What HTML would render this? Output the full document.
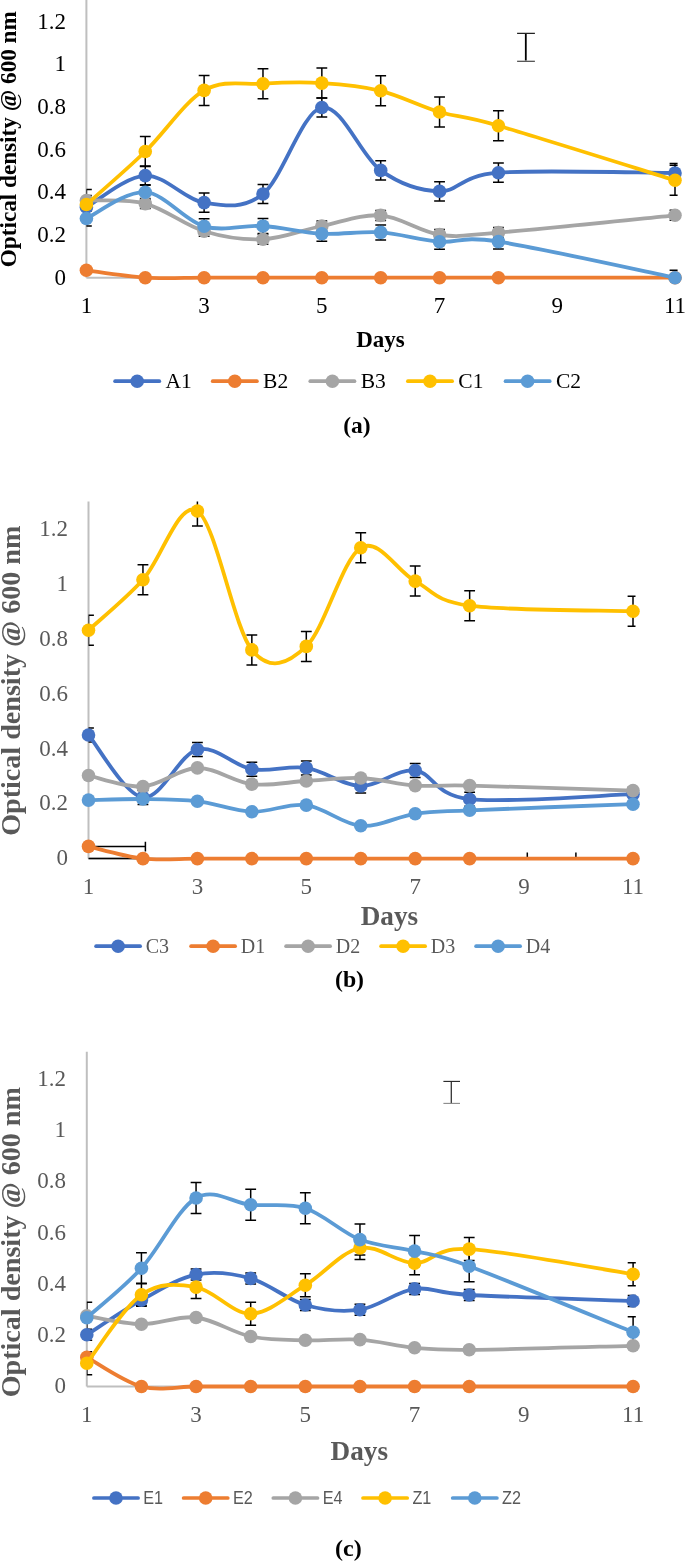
<!DOCTYPE html>
<html><head><meta charset="utf-8"><title>Optical density charts</title>
<style>
html,body{margin:0;padding:0;background:#fff;}
body{width:685px;height:1561px;overflow:hidden;}
svg{display:block;}
.s{font-family:"Liberation Serif","Times New Roman",serif;}
.ss{font-family:"Liberation Sans",Arial,sans-serif;}
</style></head><body>
<svg width="685" height="1561" viewBox="0 0 685 1561">
<rect width="685" height="1561" fill="#fff"/>
<line x1="86.40" y1="0.00" x2="86.40" y2="277.80" stroke="#BFBFBF" stroke-width="2"/>
<line x1="86.40" y1="277.80" x2="675.00" y2="277.80" stroke="#BFBFBF" stroke-width="2"/>
<text x="66.00" y="285.25" text-anchor="end" font-size="23" fill="#000" class="s">0</text>
<text x="66.00" y="242.30" text-anchor="end" font-size="23" fill="#000" class="s">0.2</text>
<text x="66.00" y="199.20" text-anchor="end" font-size="23" fill="#000" class="s">0.4</text>
<text x="66.00" y="157.05" text-anchor="end" font-size="23" fill="#000" class="s">0.6</text>
<text x="66.00" y="113.90" text-anchor="end" font-size="23" fill="#000" class="s">0.8</text>
<text x="66.00" y="71.10" text-anchor="end" font-size="23" fill="#000" class="s">1</text>
<text x="66.00" y="29.45" text-anchor="end" font-size="23" fill="#000" class="s">1.2</text>
<text x="86.40" y="313.30" text-anchor="middle" font-size="23" fill="#000" class="s">1</text>
<text x="204.12" y="313.30" text-anchor="middle" font-size="23" fill="#000" class="s">3</text>
<text x="321.84" y="313.30" text-anchor="middle" font-size="23" fill="#000" class="s">5</text>
<text x="439.56" y="313.30" text-anchor="middle" font-size="23" fill="#000" class="s">7</text>
<text x="557.28" y="313.30" text-anchor="middle" font-size="23" fill="#000" class="s">9</text>
<text x="675.00" y="313.30" text-anchor="middle" font-size="23" fill="#000" class="s">11</text>
<text transform="translate(16.40,139.20) rotate(-90)" text-anchor="middle" font-size="23.2" font-weight="bold" fill="#000" class="s">Optical density @ 600 nm</text>
<text x="380.50" y="346.60" text-anchor="middle" font-size="23" font-weight="bold" fill="#000" class="s">Days</text>
<clipPath id="clipa"><rect x="86.40" y="0.00" width="591.20" height="278.80"/></clipPath>
<path d="M86.40,197.60V216.80M81.00,197.60H91.80M81.00,216.80H91.80M145.26,166.00V185.20M139.86,166.00H150.66M139.86,185.20H150.66M204.12,193.00V212.20M198.72,193.00H209.52M198.72,212.20H209.52M262.98,184.40V203.60M257.58,184.40H268.38M257.58,203.60H268.38M321.84,97.90V117.10M316.44,97.90H327.24M316.44,117.10H327.24M380.70,160.80V180.00M375.30,160.80H386.10M375.30,180.00H386.10M439.56,181.70V200.90M434.16,181.70H444.96M434.16,200.90H444.96M498.42,163.10V182.30M493.02,163.10H503.82M493.02,182.30H503.82M675.00,163.40V182.60M669.60,163.40H680.40M669.60,182.60H680.40" stroke="#000" stroke-width="1.5" fill="none" clip-path="url(#clipa)"/>
<path d="M86.40,195.50V205.50M81.00,195.50H91.80M81.00,205.50H91.80M145.26,198.60V208.60M139.86,198.60H150.66M139.86,208.60H150.66M204.12,226.20V236.20M198.72,226.20H209.52M198.72,236.20H209.52M262.98,234.20V244.20M257.58,234.20H268.38M257.58,244.20H268.38M321.84,221.00V231.00M316.44,221.00H327.24M316.44,231.00H327.24M380.70,210.40V220.40M375.30,210.40H386.10M375.30,220.40H386.10M439.56,229.60V239.60M434.16,229.60H444.96M434.16,239.60H444.96M498.42,227.60V237.60M493.02,227.60H503.82M493.02,237.60H503.82M675.00,210.30V220.30M669.60,210.30H680.40M669.60,220.30H680.40" stroke="#000" stroke-width="1.5" fill="none" clip-path="url(#clipa)"/>
<path d="M86.40,189.50V219.50M81.00,189.50H91.80M81.00,219.50H91.80M145.26,136.50V166.50M139.86,136.50H150.66M139.86,166.50H150.66M204.12,75.40V105.40M198.72,75.40H209.52M198.72,105.40H209.52M262.98,68.70V98.70M257.58,68.70H268.38M257.58,98.70H268.38M321.84,68.10V98.10M316.44,68.10H327.24M316.44,98.10H327.24M380.70,75.80V105.80M375.30,75.80H386.10M375.30,105.80H386.10M439.56,97.00V127.00M434.16,97.00H444.96M434.16,127.00H444.96M498.42,110.80V140.80M493.02,110.80H503.82M493.02,140.80H503.82M675.00,165.30V195.30M669.60,165.30H680.40M669.60,195.30H680.40" stroke="#000" stroke-width="1.5" fill="none" clip-path="url(#clipa)"/>
<path d="M86.40,211.00V226.00M81.00,211.00H91.80M81.00,226.00H91.80M145.26,184.70V199.70M139.86,184.70H150.66M139.86,199.70H150.66M204.12,218.80V233.80M198.72,218.80H209.52M198.72,233.80H209.52M262.98,218.50V233.50M257.58,218.50H268.38M257.58,233.50H268.38M321.84,226.20V241.20M316.44,226.20H327.24M316.44,241.20H327.24M380.70,224.90V239.90M375.30,224.90H386.10M375.30,239.90H386.10M439.56,234.20V249.20M434.16,234.20H444.96M434.16,249.20H444.96M498.42,234.10V249.10M493.02,234.10H503.82M493.02,249.10H503.82M675.00,270.20V285.20M669.60,270.20H680.40M669.60,285.20H680.40" stroke="#000" stroke-width="1.5" fill="none" clip-path="url(#clipa)"/>
<path d="M86.40,207.20 C96.21,201.93 125.64,176.37 145.26,175.60 C164.88,174.83 184.50,199.53 204.12,202.60 C223.74,205.67 243.36,209.85 262.98,194.00 C282.60,178.15 302.22,111.43 321.84,107.50 C341.46,103.57 361.08,156.43 380.70,170.40 C400.32,184.37 419.94,190.92 439.56,191.30 C459.18,191.68 459.18,175.75 498.42,172.70 C537.66,169.65 645.57,172.95 675.00,173.00" stroke="#4472C4" stroke-width="3.8" fill="none" stroke-linecap="round" stroke-linejoin="round"/>
<circle cx="86.40" cy="207.20" r="6.8" fill="#4472C4"/>
<circle cx="145.26" cy="175.60" r="6.8" fill="#4472C4"/>
<circle cx="204.12" cy="202.60" r="6.8" fill="#4472C4"/>
<circle cx="262.98" cy="194.00" r="6.8" fill="#4472C4"/>
<circle cx="321.84" cy="107.50" r="6.8" fill="#4472C4"/>
<circle cx="380.70" cy="170.40" r="6.8" fill="#4472C4"/>
<circle cx="439.56" cy="191.30" r="6.8" fill="#4472C4"/>
<circle cx="498.42" cy="172.70" r="6.8" fill="#4472C4"/>
<circle cx="675.00" cy="173.00" r="6.8" fill="#4472C4"/>
<path d="M86.40,270.30 C96.21,271.53 125.64,276.47 145.26,277.70 C164.88,278.93 184.50,277.70 204.12,277.70 C223.74,277.70 243.36,277.70 262.98,277.70 C282.60,277.70 302.22,277.70 321.84,277.70 C341.46,277.70 361.08,277.70 380.70,277.70 C400.32,277.70 419.94,277.70 439.56,277.70 C459.18,277.70 459.18,277.70 498.42,277.70 C537.66,277.70 645.57,277.70 675.00,277.70" stroke="#ED7D31" stroke-width="3.8" fill="none" stroke-linecap="round" stroke-linejoin="round"/>
<circle cx="86.40" cy="270.30" r="6.8" fill="#ED7D31"/>
<circle cx="145.26" cy="277.70" r="6.8" fill="#ED7D31"/>
<circle cx="204.12" cy="277.70" r="6.8" fill="#ED7D31"/>
<circle cx="262.98" cy="277.70" r="6.8" fill="#ED7D31"/>
<circle cx="321.84" cy="277.70" r="6.8" fill="#ED7D31"/>
<circle cx="380.70" cy="277.70" r="6.8" fill="#ED7D31"/>
<circle cx="439.56" cy="277.70" r="6.8" fill="#ED7D31"/>
<circle cx="498.42" cy="277.70" r="6.8" fill="#ED7D31"/>
<circle cx="675.00" cy="277.70" r="6.8" fill="#ED7D31"/>
<path d="M86.40,200.50 C96.21,201.02 125.64,198.48 145.26,203.60 C164.88,208.72 184.50,225.27 204.12,231.20 C223.74,237.13 243.36,240.07 262.98,239.20 C282.60,238.33 302.22,229.97 321.84,226.00 C341.46,222.03 361.08,213.97 380.70,215.40 C400.32,216.83 419.94,231.73 439.56,234.60 C459.18,237.47 459.18,235.82 498.42,232.60 C537.66,229.38 645.57,218.18 675.00,215.30" stroke="#A5A5A5" stroke-width="3.8" fill="none" stroke-linecap="round" stroke-linejoin="round"/>
<circle cx="86.40" cy="200.50" r="6.8" fill="#A5A5A5"/>
<circle cx="145.26" cy="203.60" r="6.8" fill="#A5A5A5"/>
<circle cx="204.12" cy="231.20" r="6.8" fill="#A5A5A5"/>
<circle cx="262.98" cy="239.20" r="6.8" fill="#A5A5A5"/>
<circle cx="321.84" cy="226.00" r="6.8" fill="#A5A5A5"/>
<circle cx="380.70" cy="215.40" r="6.8" fill="#A5A5A5"/>
<circle cx="439.56" cy="234.60" r="6.8" fill="#A5A5A5"/>
<circle cx="498.42" cy="232.60" r="6.8" fill="#A5A5A5"/>
<circle cx="675.00" cy="215.30" r="6.8" fill="#A5A5A5"/>
<path d="M86.40,204.50 C96.21,195.67 125.64,170.52 145.26,151.50 C164.88,132.48 184.50,101.70 204.12,90.40 C223.74,79.10 243.36,84.92 262.98,83.70 C282.60,82.48 302.22,81.92 321.84,83.10 C341.46,84.28 361.08,85.98 380.70,90.80 C400.32,95.62 419.94,106.17 439.56,112.00 C459.18,117.83 459.18,114.42 498.42,125.80 C537.66,137.18 645.57,171.22 675.00,180.30" stroke="#FFC000" stroke-width="3.8" fill="none" stroke-linecap="round" stroke-linejoin="round"/>
<circle cx="86.40" cy="204.50" r="6.8" fill="#FFC000"/>
<circle cx="145.26" cy="151.50" r="6.8" fill="#FFC000"/>
<circle cx="204.12" cy="90.40" r="6.8" fill="#FFC000"/>
<circle cx="262.98" cy="83.70" r="6.8" fill="#FFC000"/>
<circle cx="321.84" cy="83.10" r="6.8" fill="#FFC000"/>
<circle cx="380.70" cy="90.80" r="6.8" fill="#FFC000"/>
<circle cx="439.56" cy="112.00" r="6.8" fill="#FFC000"/>
<circle cx="498.42" cy="125.80" r="6.8" fill="#FFC000"/>
<circle cx="675.00" cy="180.30" r="6.8" fill="#FFC000"/>
<path d="M86.40,218.50 C96.21,214.12 125.64,190.90 145.26,192.20 C164.88,193.50 184.50,220.67 204.12,226.30 C223.74,231.93 243.36,224.77 262.98,226.00 C282.60,227.23 302.22,232.63 321.84,233.70 C341.46,234.77 361.08,231.07 380.70,232.40 C400.32,233.73 419.94,240.17 439.56,241.70 C459.18,243.23 459.18,235.60 498.42,241.60 C537.66,247.60 645.57,271.68 675.00,277.70" stroke="#5B9BD5" stroke-width="3.8" fill="none" stroke-linecap="round" stroke-linejoin="round"/>
<circle cx="86.40" cy="218.50" r="6.8" fill="#5B9BD5"/>
<circle cx="145.26" cy="192.20" r="6.8" fill="#5B9BD5"/>
<circle cx="204.12" cy="226.30" r="6.8" fill="#5B9BD5"/>
<circle cx="262.98" cy="226.00" r="6.8" fill="#5B9BD5"/>
<circle cx="321.84" cy="233.70" r="6.8" fill="#5B9BD5"/>
<circle cx="380.70" cy="232.40" r="6.8" fill="#5B9BD5"/>
<circle cx="439.56" cy="241.70" r="6.8" fill="#5B9BD5"/>
<circle cx="498.42" cy="241.60" r="6.8" fill="#5B9BD5"/>
<circle cx="675.00" cy="277.70" r="6.8" fill="#5B9BD5"/>
<line x1="115.10" y1="381.20" x2="159.30" y2="381.20" stroke="#4472C4" stroke-width="3.7" stroke-linecap="round"/>
<circle cx="137.20" cy="381.20" r="6.8" fill="#4472C4"/>
<text x="165.50" y="388.40" font-size="21.5" fill="#000" class="s">A1</text>
<line x1="212.70" y1="381.20" x2="256.90" y2="381.20" stroke="#ED7D31" stroke-width="3.7" stroke-linecap="round"/>
<circle cx="234.80" cy="381.20" r="6.8" fill="#ED7D31"/>
<text x="263.10" y="388.40" font-size="21.5" fill="#000" class="s">B2</text>
<line x1="310.30" y1="381.20" x2="354.50" y2="381.20" stroke="#A5A5A5" stroke-width="3.7" stroke-linecap="round"/>
<circle cx="332.40" cy="381.20" r="6.8" fill="#A5A5A5"/>
<text x="360.70" y="388.40" font-size="21.5" fill="#000" class="s">B3</text>
<line x1="407.90" y1="381.20" x2="452.10" y2="381.20" stroke="#FFC000" stroke-width="3.7" stroke-linecap="round"/>
<circle cx="430.00" cy="381.20" r="6.8" fill="#FFC000"/>
<text x="458.30" y="388.40" font-size="21.5" fill="#000" class="s">C1</text>
<line x1="505.50" y1="381.20" x2="549.70" y2="381.20" stroke="#5B9BD5" stroke-width="3.7" stroke-linecap="round"/>
<circle cx="527.60" cy="381.20" r="6.8" fill="#5B9BD5"/>
<text x="555.90" y="388.40" font-size="21.5" fill="#000" class="s">C2</text>
<text x="357.00" y="432.50" text-anchor="middle" font-size="23.5" font-weight="bold" fill="#000" class="s">(a)</text>
<path d="M525.8,33.4V60.5" stroke="#000" stroke-width="1.8"/>
<path d="M517.1,33.4H534.9M517.1,61.3H534.9" stroke="#222" stroke-width="1.1"/>
<line x1="88.50" y1="501.50" x2="88.50" y2="858.60" stroke="#BFBFBF" stroke-width="2"/>
<line x1="88.50" y1="858.60" x2="633.00" y2="858.60" stroke="#BFBFBF" stroke-width="2"/>
<text x="68.00" y="865.30" text-anchor="end" font-size="23" fill="#595959" class="s">0</text>
<text x="68.00" y="810.42" text-anchor="end" font-size="23" fill="#595959" class="s">0.2</text>
<text x="68.00" y="755.54" text-anchor="end" font-size="23" fill="#595959" class="s">0.4</text>
<text x="68.00" y="700.66" text-anchor="end" font-size="23" fill="#595959" class="s">0.6</text>
<text x="68.00" y="645.78" text-anchor="end" font-size="23" fill="#595959" class="s">0.8</text>
<text x="68.00" y="590.90" text-anchor="end" font-size="23" fill="#595959" class="s">1</text>
<text x="68.00" y="536.02" text-anchor="end" font-size="23" fill="#595959" class="s">1.2</text>
<text x="88.50" y="894.20" text-anchor="middle" font-size="23" fill="#595959" class="s">1</text>
<text x="197.40" y="894.20" text-anchor="middle" font-size="23" fill="#595959" class="s">3</text>
<text x="306.30" y="894.20" text-anchor="middle" font-size="23" fill="#595959" class="s">5</text>
<text x="415.20" y="894.20" text-anchor="middle" font-size="23" fill="#595959" class="s">7</text>
<text x="524.10" y="894.20" text-anchor="middle" font-size="23" fill="#595959" class="s">9</text>
<text x="633.00" y="894.20" text-anchor="middle" font-size="23" fill="#595959" class="s">11</text>
<text transform="translate(20.00,680.70) rotate(-90)" text-anchor="middle" font-size="28.1" font-weight="bold" fill="#595959" class="s">Optical density @ 600 nm</text>
<text x="389.40" y="924.90" text-anchor="middle" font-size="27.2" font-weight="bold" fill="#595959" class="s">Days</text>
<clipPath id="clipb"><rect x="88.50" y="501.50" width="547.00" height="358.10"/></clipPath>
<path d="M88.5,846.4H145.4M145.4,841.7V851.4M88.5,858.6H145.4M527.3,852.6V858M575.9,852.6V858" stroke="#000" stroke-width="1.5" fill="none"/>
<path d="M88.50,728.00V742.00M83.10,728.00H93.90M83.10,742.00H93.90M142.95,790.40V804.40M137.55,790.40H148.35M137.55,804.40H148.35M197.40,742.50V756.50M192.00,742.50H202.80M192.00,756.50H202.80M251.85,762.20V776.20M246.45,762.20H257.25M246.45,776.20H257.25M306.30,760.90V774.90M300.90,760.90H311.70M300.90,774.90H311.70M360.75,779.00V793.00M355.35,779.00H366.15M355.35,793.00H366.15M415.20,763.50V777.50M409.80,763.50H420.60M409.80,777.50H420.60M469.65,792.20V806.20M464.25,792.20H475.05M464.25,806.20H475.05M633.00,787.20V801.20M627.60,787.20H638.40M627.60,801.20H638.40" stroke="#000" stroke-width="1.5" fill="none" clip-path="url(#clipb)"/>
<path d="M88.50,615.20V645.20M83.10,615.20H93.90M83.10,645.20H93.90M142.95,564.80V594.80M137.55,564.80H148.35M137.55,594.80H148.35M197.40,496.00V526.00M192.00,496.00H202.80M192.00,526.00H202.80M251.85,634.90V664.90M246.45,634.90H257.25M246.45,664.90H257.25M306.30,631.40V661.40M300.90,631.40H311.70M300.90,661.40H311.70M360.75,532.80V562.80M355.35,532.80H366.15M355.35,562.80H366.15M415.20,566.10V596.10M409.80,566.10H420.60M409.80,596.10H420.60M469.65,590.70V620.70M464.25,590.70H475.05M464.25,620.70H475.05M633.00,596.30V626.30M627.60,596.30H638.40M627.60,626.30H638.40" stroke="#000" stroke-width="1.5" fill="none" clip-path="url(#clipb)"/>
<path d="M88.50,735.00 C97.58,745.40 124.80,794.98 142.95,797.40 C161.10,799.82 179.25,754.20 197.40,749.50 C215.55,744.80 233.70,766.13 251.85,769.20 C270.00,772.27 288.15,765.10 306.30,767.90 C324.45,770.70 342.60,785.57 360.75,786.00 C378.90,786.43 397.05,768.30 415.20,770.50 C433.35,772.70 433.35,795.25 469.65,799.20 C505.95,803.15 605.77,795.03 633.00,794.20" stroke="#4472C4" stroke-width="3.8" fill="none" stroke-linecap="round" stroke-linejoin="round"/>
<circle cx="88.50" cy="735.00" r="6.8" fill="#4472C4"/>
<circle cx="142.95" cy="797.40" r="6.8" fill="#4472C4"/>
<circle cx="197.40" cy="749.50" r="6.8" fill="#4472C4"/>
<circle cx="251.85" cy="769.20" r="6.8" fill="#4472C4"/>
<circle cx="306.30" cy="767.90" r="6.8" fill="#4472C4"/>
<circle cx="360.75" cy="786.00" r="6.8" fill="#4472C4"/>
<circle cx="415.20" cy="770.50" r="6.8" fill="#4472C4"/>
<circle cx="469.65" cy="799.20" r="6.8" fill="#4472C4"/>
<circle cx="633.00" cy="794.20" r="6.8" fill="#4472C4"/>
<path d="M88.50,846.40 C97.58,848.43 124.80,856.57 142.95,858.60 C161.10,860.63 179.25,858.60 197.40,858.60 C215.55,858.60 233.70,858.60 251.85,858.60 C270.00,858.60 288.15,858.60 306.30,858.60 C324.45,858.60 342.60,858.60 360.75,858.60 C378.90,858.60 397.05,858.60 415.20,858.60 C433.35,858.60 433.35,858.60 469.65,858.60 C505.95,858.60 605.77,858.60 633.00,858.60" stroke="#ED7D31" stroke-width="3.8" fill="none" stroke-linecap="round" stroke-linejoin="round"/>
<circle cx="88.50" cy="846.40" r="6.8" fill="#ED7D31"/>
<circle cx="142.95" cy="858.60" r="6.8" fill="#ED7D31"/>
<circle cx="197.40" cy="858.60" r="6.8" fill="#ED7D31"/>
<circle cx="251.85" cy="858.60" r="6.8" fill="#ED7D31"/>
<circle cx="306.30" cy="858.60" r="6.8" fill="#ED7D31"/>
<circle cx="360.75" cy="858.60" r="6.8" fill="#ED7D31"/>
<circle cx="415.20" cy="858.60" r="6.8" fill="#ED7D31"/>
<circle cx="469.65" cy="858.60" r="6.8" fill="#ED7D31"/>
<circle cx="633.00" cy="858.60" r="6.8" fill="#ED7D31"/>
<path d="M88.50,775.50 C97.58,777.33 124.80,787.77 142.95,786.50 C161.10,785.23 179.25,768.30 197.40,767.90 C215.55,767.50 233.70,781.92 251.85,784.10 C270.00,786.28 288.15,782.02 306.30,781.00 C324.45,779.98 342.60,777.23 360.75,778.00 C378.90,778.77 397.05,784.33 415.20,785.60 C433.35,786.87 433.35,784.77 469.65,785.60 C505.95,786.43 605.77,789.77 633.00,790.60" stroke="#A5A5A5" stroke-width="3.8" fill="none" stroke-linecap="round" stroke-linejoin="round"/>
<circle cx="88.50" cy="775.50" r="6.8" fill="#A5A5A5"/>
<circle cx="142.95" cy="786.50" r="6.8" fill="#A5A5A5"/>
<circle cx="197.40" cy="767.90" r="6.8" fill="#A5A5A5"/>
<circle cx="251.85" cy="784.10" r="6.8" fill="#A5A5A5"/>
<circle cx="306.30" cy="781.00" r="6.8" fill="#A5A5A5"/>
<circle cx="360.75" cy="778.00" r="6.8" fill="#A5A5A5"/>
<circle cx="415.20" cy="785.60" r="6.8" fill="#A5A5A5"/>
<circle cx="469.65" cy="785.60" r="6.8" fill="#A5A5A5"/>
<circle cx="633.00" cy="790.60" r="6.8" fill="#A5A5A5"/>
<path d="M88.50,630.20 C97.58,621.80 124.80,599.67 142.95,579.80 C161.10,559.93 179.25,499.32 197.40,511.00 C215.55,522.68 233.70,627.33 251.85,649.90 C270.00,672.47 288.15,663.42 306.30,646.40 C324.45,629.38 342.60,558.68 360.75,547.80 C378.90,536.92 397.05,571.45 415.20,581.10 C433.35,590.75 433.35,600.67 469.65,605.70 C505.95,610.73 605.77,610.37 633.00,611.30" stroke="#FFC000" stroke-width="3.8" fill="none" stroke-linecap="round" stroke-linejoin="round"/>
<circle cx="88.50" cy="630.20" r="6.8" fill="#FFC000"/>
<circle cx="142.95" cy="579.80" r="6.8" fill="#FFC000"/>
<circle cx="197.40" cy="511.00" r="6.8" fill="#FFC000"/>
<circle cx="251.85" cy="649.90" r="6.8" fill="#FFC000"/>
<circle cx="306.30" cy="646.40" r="6.8" fill="#FFC000"/>
<circle cx="360.75" cy="547.80" r="6.8" fill="#FFC000"/>
<circle cx="415.20" cy="581.10" r="6.8" fill="#FFC000"/>
<circle cx="469.65" cy="605.70" r="6.8" fill="#FFC000"/>
<circle cx="633.00" cy="611.30" r="6.8" fill="#FFC000"/>
<path d="M88.50,800.10 C97.58,799.92 124.80,798.82 142.95,799.00 C161.10,799.18 179.25,799.08 197.40,801.20 C215.55,803.32 233.70,811.05 251.85,811.70 C270.00,812.35 288.15,802.75 306.30,805.10 C324.45,807.45 342.60,824.35 360.75,825.80 C378.90,827.25 397.05,816.38 415.20,813.80 C433.35,811.22 433.35,811.90 469.65,810.30 C505.95,808.70 605.77,805.22 633.00,804.20" stroke="#5B9BD5" stroke-width="3.8" fill="none" stroke-linecap="round" stroke-linejoin="round"/>
<circle cx="88.50" cy="800.10" r="6.8" fill="#5B9BD5"/>
<circle cx="142.95" cy="799.00" r="6.8" fill="#5B9BD5"/>
<circle cx="197.40" cy="801.20" r="6.8" fill="#5B9BD5"/>
<circle cx="251.85" cy="811.70" r="6.8" fill="#5B9BD5"/>
<circle cx="306.30" cy="805.10" r="6.8" fill="#5B9BD5"/>
<circle cx="360.75" cy="825.80" r="6.8" fill="#5B9BD5"/>
<circle cx="415.20" cy="813.80" r="6.8" fill="#5B9BD5"/>
<circle cx="469.65" cy="810.30" r="6.8" fill="#5B9BD5"/>
<circle cx="633.00" cy="804.20" r="6.8" fill="#5B9BD5"/>
<line x1="96.10" y1="946.20" x2="140.10" y2="946.20" stroke="#4472C4" stroke-width="3.7" stroke-linecap="round"/>
<circle cx="118.10" cy="946.20" r="6.8" fill="#4472C4"/>
<text x="145.70" y="953.20" font-size="20" fill="#595959" class="s">C3</text>
<line x1="191.10" y1="946.20" x2="235.10" y2="946.20" stroke="#ED7D31" stroke-width="3.7" stroke-linecap="round"/>
<circle cx="213.10" cy="946.20" r="6.8" fill="#ED7D31"/>
<text x="240.70" y="953.20" font-size="20" fill="#595959" class="s">D1</text>
<line x1="286.10" y1="946.20" x2="330.10" y2="946.20" stroke="#A5A5A5" stroke-width="3.7" stroke-linecap="round"/>
<circle cx="308.10" cy="946.20" r="6.8" fill="#A5A5A5"/>
<text x="335.70" y="953.20" font-size="20" fill="#595959" class="s">D2</text>
<line x1="381.10" y1="946.20" x2="425.10" y2="946.20" stroke="#FFC000" stroke-width="3.7" stroke-linecap="round"/>
<circle cx="403.10" cy="946.20" r="6.8" fill="#FFC000"/>
<text x="430.70" y="953.20" font-size="20" fill="#595959" class="s">D3</text>
<line x1="476.10" y1="946.20" x2="520.10" y2="946.20" stroke="#5B9BD5" stroke-width="3.7" stroke-linecap="round"/>
<circle cx="498.10" cy="946.20" r="6.8" fill="#5B9BD5"/>
<text x="525.70" y="953.20" font-size="20" fill="#595959" class="s">D4</text>
<text x="349.50" y="987.20" text-anchor="middle" font-size="23.8" font-weight="bold" fill="#000" class="s">(b)</text>
<line x1="86.80" y1="1051.80" x2="86.80" y2="1386.50" stroke="#BFBFBF" stroke-width="2"/>
<line x1="86.80" y1="1386.50" x2="633.10" y2="1386.50" stroke="#BFBFBF" stroke-width="2"/>
<text x="66.00" y="1393.40" text-anchor="end" font-size="23" fill="#595959" class="s">0</text>
<text x="66.00" y="1342.10" text-anchor="end" font-size="23" fill="#595959" class="s">0.2</text>
<text x="66.00" y="1290.80" text-anchor="end" font-size="23" fill="#595959" class="s">0.4</text>
<text x="66.00" y="1239.50" text-anchor="end" font-size="23" fill="#595959" class="s">0.6</text>
<text x="66.00" y="1188.20" text-anchor="end" font-size="23" fill="#595959" class="s">0.8</text>
<text x="66.00" y="1136.90" text-anchor="end" font-size="23" fill="#595959" class="s">1</text>
<text x="66.00" y="1085.60" text-anchor="end" font-size="23" fill="#595959" class="s">1.2</text>
<text x="86.80" y="1422.00" text-anchor="middle" font-size="23" fill="#595959" class="s">1</text>
<text x="196.06" y="1422.00" text-anchor="middle" font-size="23" fill="#595959" class="s">3</text>
<text x="305.32" y="1422.00" text-anchor="middle" font-size="23" fill="#595959" class="s">5</text>
<text x="414.58" y="1422.00" text-anchor="middle" font-size="23" fill="#595959" class="s">7</text>
<text x="523.84" y="1422.00" text-anchor="middle" font-size="23" fill="#595959" class="s">9</text>
<text x="633.10" y="1422.00" text-anchor="middle" font-size="23" fill="#595959" class="s">11</text>
<text transform="translate(20.00,1242.20) rotate(-90)" text-anchor="middle" font-size="28.1" font-weight="bold" fill="#595959" class="s">Optical density @ 600 nm</text>
<text x="359.30" y="1459.90" text-anchor="middle" font-size="27.2" font-weight="bold" fill="#595959" class="s">Days</text>
<clipPath id="clipc"><rect x="86.80" y="1051.80" width="549.00" height="335.70"/></clipPath>
<path d="M86.80,1329.30V1340.30M81.40,1329.30H92.20M81.40,1340.30H92.20M141.43,1294.60V1305.60M136.03,1294.60H146.83M136.03,1305.60H146.83M196.06,1269.10V1280.10M190.66,1269.10H201.46M190.66,1280.10H201.46M250.69,1272.90V1283.90M245.29,1272.90H256.09M245.29,1283.90H256.09M305.32,1299.50V1310.50M299.92,1299.50H310.72M299.92,1310.50H310.72M359.95,1304.20V1315.20M354.55,1304.20H365.35M354.55,1315.20H365.35M414.58,1283.40V1294.40M409.18,1283.40H419.98M409.18,1294.40H419.98M469.21,1289.50V1300.50M463.81,1289.50H474.61M463.81,1300.50H474.61M633.10,1295.50V1306.50M627.70,1295.50H638.50M627.70,1306.50H638.50" stroke="#000" stroke-width="1.5" fill="none" clip-path="url(#clipc)"/>
<path d="M86.80,1351.70V1374.70M81.40,1351.70H92.20M81.40,1374.70H92.20M141.43,1283.30V1306.30M136.03,1283.30H146.83M136.03,1306.30H146.83M196.06,1275.60V1298.60M190.66,1275.60H201.46M190.66,1298.60H201.46M250.69,1302.20V1325.20M245.29,1302.20H256.09M245.29,1325.20H256.09M305.32,1273.70V1296.70M299.92,1273.70H310.72M299.92,1296.70H310.72M359.95,1236.50V1259.50M354.55,1236.50H365.35M354.55,1259.50H365.35M414.58,1251.70V1274.70M409.18,1251.70H419.98M409.18,1274.70H419.98M469.21,1237.60V1260.60M463.81,1237.60H474.61M463.81,1260.60H474.61M633.10,1262.80V1285.80M627.70,1262.80H638.50M627.70,1285.80H638.50" stroke="#000" stroke-width="1.5" fill="none" clip-path="url(#clipc)"/>
<path d="M86.80,1302.20V1333.20M81.40,1302.20H92.20M81.40,1333.20H92.20M141.43,1252.70V1283.70M136.03,1252.70H146.83M136.03,1283.70H146.83M196.06,1182.50V1213.50M190.66,1182.50H201.46M190.66,1213.50H201.46M250.69,1189.30V1220.30M245.29,1189.30H256.09M245.29,1220.30H256.09M305.32,1192.70V1223.70M299.92,1192.70H310.72M299.92,1223.70H310.72M359.95,1224.10V1255.10M354.55,1224.10H365.35M354.55,1255.10H365.35M414.58,1235.60V1266.60M409.18,1235.60H419.98M409.18,1266.60H419.98M469.21,1250.70V1281.70M463.81,1250.70H474.61M463.81,1281.70H474.61M633.10,1316.70V1347.70M627.70,1316.70H638.50M627.70,1347.70H638.50" stroke="#000" stroke-width="1.5" fill="none" clip-path="url(#clipc)"/>
<path d="M86.80,1334.80 C95.91,1329.02 123.22,1310.13 141.43,1300.10 C159.64,1290.07 177.85,1278.22 196.06,1274.60 C214.27,1270.98 232.48,1273.33 250.69,1278.40 C268.90,1283.47 287.11,1299.78 305.32,1305.00 C323.53,1310.22 341.74,1312.38 359.95,1309.70 C378.16,1307.02 396.37,1291.35 414.58,1288.90 C432.79,1286.45 432.79,1292.98 469.21,1295.00 C505.63,1297.02 605.79,1300.00 633.10,1301.00" stroke="#4472C4" stroke-width="3.8" fill="none" stroke-linecap="round" stroke-linejoin="round"/>
<circle cx="86.80" cy="1334.80" r="6.8" fill="#4472C4"/>
<circle cx="141.43" cy="1300.10" r="6.8" fill="#4472C4"/>
<circle cx="196.06" cy="1274.60" r="6.8" fill="#4472C4"/>
<circle cx="250.69" cy="1278.40" r="6.8" fill="#4472C4"/>
<circle cx="305.32" cy="1305.00" r="6.8" fill="#4472C4"/>
<circle cx="359.95" cy="1309.70" r="6.8" fill="#4472C4"/>
<circle cx="414.58" cy="1288.90" r="6.8" fill="#4472C4"/>
<circle cx="469.21" cy="1295.00" r="6.8" fill="#4472C4"/>
<circle cx="633.10" cy="1301.00" r="6.8" fill="#4472C4"/>
<path d="M86.80,1357.20 C95.91,1362.08 123.22,1381.62 141.43,1386.50 C159.64,1391.38 177.85,1386.50 196.06,1386.50 C214.27,1386.50 232.48,1386.50 250.69,1386.50 C268.90,1386.50 287.11,1386.50 305.32,1386.50 C323.53,1386.50 341.74,1386.50 359.95,1386.50 C378.16,1386.50 396.37,1386.50 414.58,1386.50 C432.79,1386.50 432.79,1386.50 469.21,1386.50 C505.63,1386.50 605.79,1386.50 633.10,1386.50" stroke="#ED7D31" stroke-width="3.8" fill="none" stroke-linecap="round" stroke-linejoin="round"/>
<circle cx="86.80" cy="1357.20" r="6.8" fill="#ED7D31"/>
<circle cx="141.43" cy="1386.50" r="6.8" fill="#ED7D31"/>
<circle cx="196.06" cy="1386.50" r="6.8" fill="#ED7D31"/>
<circle cx="250.69" cy="1386.50" r="6.8" fill="#ED7D31"/>
<circle cx="305.32" cy="1386.50" r="6.8" fill="#ED7D31"/>
<circle cx="359.95" cy="1386.50" r="6.8" fill="#ED7D31"/>
<circle cx="414.58" cy="1386.50" r="6.8" fill="#ED7D31"/>
<circle cx="469.21" cy="1386.50" r="6.8" fill="#ED7D31"/>
<circle cx="633.10" cy="1386.50" r="6.8" fill="#ED7D31"/>
<path d="M86.80,1315.90 C95.91,1317.28 123.22,1323.93 141.43,1324.20 C159.64,1324.47 177.85,1315.45 196.06,1317.50 C214.27,1319.55 232.48,1332.70 250.69,1336.50 C268.90,1340.30 287.11,1339.78 305.32,1340.30 C323.53,1340.82 341.74,1338.35 359.95,1339.60 C378.16,1340.85 396.37,1346.10 414.58,1347.80 C432.79,1349.50 432.79,1350.13 469.21,1349.80 C505.63,1349.47 605.79,1346.47 633.10,1345.80" stroke="#A5A5A5" stroke-width="3.8" fill="none" stroke-linecap="round" stroke-linejoin="round"/>
<circle cx="86.80" cy="1315.90" r="6.8" fill="#A5A5A5"/>
<circle cx="141.43" cy="1324.20" r="6.8" fill="#A5A5A5"/>
<circle cx="196.06" cy="1317.50" r="6.8" fill="#A5A5A5"/>
<circle cx="250.69" cy="1336.50" r="6.8" fill="#A5A5A5"/>
<circle cx="305.32" cy="1340.30" r="6.8" fill="#A5A5A5"/>
<circle cx="359.95" cy="1339.60" r="6.8" fill="#A5A5A5"/>
<circle cx="414.58" cy="1347.80" r="6.8" fill="#A5A5A5"/>
<circle cx="469.21" cy="1349.80" r="6.8" fill="#A5A5A5"/>
<circle cx="633.10" cy="1345.80" r="6.8" fill="#A5A5A5"/>
<path d="M86.80,1363.20 C95.91,1351.80 123.22,1307.48 141.43,1294.80 C159.64,1282.12 177.85,1283.95 196.06,1287.10 C214.27,1290.25 232.48,1314.02 250.69,1313.70 C268.90,1313.38 287.11,1296.15 305.32,1285.20 C323.53,1274.25 341.74,1251.67 359.95,1248.00 C378.16,1244.33 396.37,1263.02 414.58,1263.20 C432.79,1263.38 432.79,1247.25 469.21,1249.10 C505.63,1250.95 605.79,1270.10 633.10,1274.30" stroke="#FFC000" stroke-width="3.8" fill="none" stroke-linecap="round" stroke-linejoin="round"/>
<circle cx="86.80" cy="1363.20" r="6.8" fill="#FFC000"/>
<circle cx="141.43" cy="1294.80" r="6.8" fill="#FFC000"/>
<circle cx="196.06" cy="1287.10" r="6.8" fill="#FFC000"/>
<circle cx="250.69" cy="1313.70" r="6.8" fill="#FFC000"/>
<circle cx="305.32" cy="1285.20" r="6.8" fill="#FFC000"/>
<circle cx="359.95" cy="1248.00" r="6.8" fill="#FFC000"/>
<circle cx="414.58" cy="1263.20" r="6.8" fill="#FFC000"/>
<circle cx="469.21" cy="1249.10" r="6.8" fill="#FFC000"/>
<circle cx="633.10" cy="1274.30" r="6.8" fill="#FFC000"/>
<path d="M86.80,1317.70 C95.91,1309.45 123.22,1288.15 141.43,1268.20 C159.64,1248.25 177.85,1208.57 196.06,1198.00 C214.27,1187.43 232.48,1203.10 250.69,1204.80 C268.90,1206.50 287.11,1202.40 305.32,1208.20 C323.53,1214.00 341.74,1232.45 359.95,1239.60 C378.16,1246.75 396.37,1246.67 414.58,1251.10 C432.79,1255.53 432.79,1252.68 469.21,1266.20 C505.63,1279.72 605.79,1321.20 633.10,1332.20" stroke="#5B9BD5" stroke-width="3.8" fill="none" stroke-linecap="round" stroke-linejoin="round"/>
<circle cx="86.80" cy="1317.70" r="6.8" fill="#5B9BD5"/>
<circle cx="141.43" cy="1268.20" r="6.8" fill="#5B9BD5"/>
<circle cx="196.06" cy="1198.00" r="6.8" fill="#5B9BD5"/>
<circle cx="250.69" cy="1204.80" r="6.8" fill="#5B9BD5"/>
<circle cx="305.32" cy="1208.20" r="6.8" fill="#5B9BD5"/>
<circle cx="359.95" cy="1239.60" r="6.8" fill="#5B9BD5"/>
<circle cx="414.58" cy="1251.10" r="6.8" fill="#5B9BD5"/>
<circle cx="469.21" cy="1266.20" r="6.8" fill="#5B9BD5"/>
<circle cx="633.10" cy="1332.20" r="6.8" fill="#5B9BD5"/>
<line x1="93.90" y1="1498.00" x2="138.10" y2="1498.00" stroke="#4472C4" stroke-width="3.7" stroke-linecap="round"/>
<circle cx="116.00" cy="1498.00" r="6.8" fill="#4472C4"/>
<text x="143.30" y="1504.00" font-size="18.2" fill="#595959" class="ss" textLength="19.81" lengthAdjust="spacingAndGlyphs">E1</text>
<line x1="183.60" y1="1498.00" x2="227.80" y2="1498.00" stroke="#ED7D31" stroke-width="3.7" stroke-linecap="round"/>
<circle cx="205.70" cy="1498.00" r="6.8" fill="#ED7D31"/>
<text x="233.00" y="1504.00" font-size="18.2" fill="#595959" class="ss" textLength="19.81" lengthAdjust="spacingAndGlyphs">E2</text>
<line x1="273.30" y1="1498.00" x2="317.50" y2="1498.00" stroke="#A5A5A5" stroke-width="3.7" stroke-linecap="round"/>
<circle cx="295.40" cy="1498.00" r="6.8" fill="#A5A5A5"/>
<text x="322.70" y="1504.00" font-size="18.2" fill="#595959" class="ss" textLength="19.81" lengthAdjust="spacingAndGlyphs">E4</text>
<line x1="363.00" y1="1498.00" x2="407.20" y2="1498.00" stroke="#FFC000" stroke-width="3.7" stroke-linecap="round"/>
<circle cx="385.10" cy="1498.00" r="6.8" fill="#FFC000"/>
<text x="412.40" y="1504.00" font-size="18.2" fill="#595959" class="ss" textLength="18.90" lengthAdjust="spacingAndGlyphs">Z1</text>
<line x1="452.70" y1="1498.00" x2="496.90" y2="1498.00" stroke="#5B9BD5" stroke-width="3.7" stroke-linecap="round"/>
<circle cx="474.80" cy="1498.00" r="6.8" fill="#5B9BD5"/>
<text x="502.10" y="1504.00" font-size="18.2" fill="#595959" class="ss" textLength="18.90" lengthAdjust="spacingAndGlyphs">Z2</text>
<text x="348.40" y="1556.40" text-anchor="middle" font-size="24" font-weight="bold" fill="#000" class="s">(c)</text>
<path d="M451.3,1081.4V1103.4" stroke="#333" stroke-width="1.3"/>
<path d="M443.4,1081.4H460" stroke="#222" stroke-width="1.1"/><path d="M443.4,1103.4H460" stroke="#888" stroke-width="1.1"/>
</svg>
</body></html>
